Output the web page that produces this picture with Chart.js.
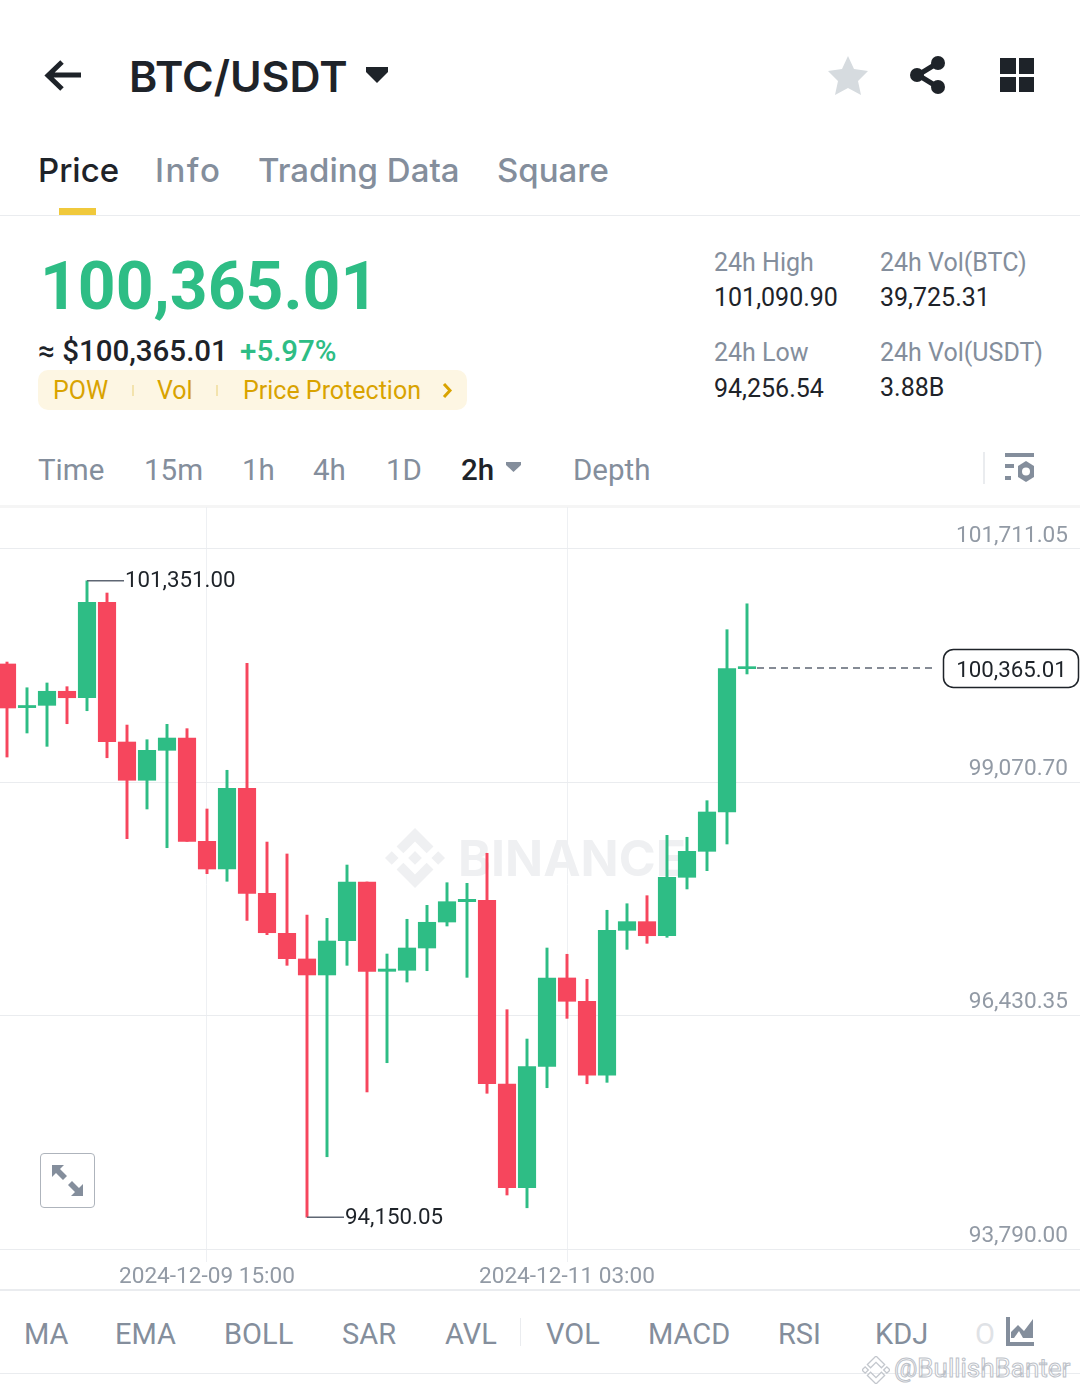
<!DOCTYPE html>
<html>
<head>
<meta charset="utf-8">
<script src="https://cdn.jsdelivr.net/npm/chart.js@4"></script>
<style>
  html, body { margin: 0; padding: 0; background: #fff; }
  #page { position: relative; width: 1080px; height: 1390px; overflow: hidden; background: #fff; font-family: Roboto, sans-serif; }
  .t { position: absolute; line-height: 0; white-space: nowrap; }
  .gray { color: #848e9c; }
  .dark { color: #1e2329; }
  .line { position: absolute; left: 0; width: 1080px; background: #eaecef; }
  svg { position: absolute; }
  #chartBox { position: absolute; left: 0; top: 507px; width: 1080px; height: 783px; }
  .tab { font-family: Inter; font-size: 33px; font-weight: 500; }
  .stat { font-size: 25px; }
  .ivl { font-size: 29.500px; }
  .ind { font-size: 29px; color: #848e9c; top: 1334px; }
  .pill { font-size: 25px; color: #d9a300; top: 391px; }
</style>
</head>
<body>
<div id="page">
  <!-- ヘッダー -->
  <svg style="left:44px;top:58px" width="38" height="36" viewBox="0 0 38 36"><path d="M37 17H7M18 4L4 17.500L18 31" fill="none" stroke="#1e2329" stroke-width="5"/></svg>
  <div class="t dark" style="left:129px;top:76px;font-family:Inter;font-size:43px;font-weight:600">BTC/USDT</div>
  <svg style="left:365px;top:66px" width="24" height="18"><path d="M1 1H23V6L12 17L1 6Z" fill="#1e2329"/></svg>
  <svg style="left:828px;top:56px" width="40" height="40" viewBox="0 0 40 40"><path d="M20 0L26 13L40 15L30 25L33 39L20 32L7 39L10 25L0 15L14 13Z" fill="#d6dbdf"/></svg>
  <svg style="left:908px;top:55px" width="40" height="40" viewBox="0 0 40 40"><path d="M28 9L10 20L28 31" fill="none" stroke="#1e2329" stroke-width="5"/><circle cx="30" cy="8" r="7" fill="#1e2329"/><circle cx="9" cy="20" r="7" fill="#1e2329"/><circle cx="30" cy="32" r="7" fill="#1e2329"/></svg>
  <svg style="left:1000px;top:58px" width="34" height="34"><rect width="16" height="16" fill="#1e2329"/><rect x="19" width="15" height="16" fill="#1e2329"/><rect y="19" width="16" height="15" fill="#1e2329"/><rect x="19" y="19" width="15" height="15" fill="#1e2329"/></svg>

  <!-- タブ -->
  <div class="t tab dark" style="left:38px;top:170px">Price</div>
  <div class="t tab gray" style="left:155px;top:170px;letter-spacing:1.500px">Info</div>
  <div class="t tab gray" style="left:258px;top:170px">Trading Data</div>
  <div class="t tab gray" style="left:497px;top:170px">Square</div>
  <div style="position:absolute;left:59px;top:208px;width:37px;height:7px;background:#f0c93c"></div>
  <div class="line" style="top:215px;height:1px"></div>

  <!-- 価格 -->
  <div class="t" style="left:40px;top:287px;font-size:66px;font-weight:700;color:#2ebd85">100,365.01</div>
  <div class="t dark" style="left:38px;top:351px;font-size:29.500px;font-weight:500">≈ $100,365.01</div>
  <div class="t" style="left:240px;top:351px;font-size:29.500px;font-weight:500;color:#2ebd85">+5.97%</div>
  <div style="position:absolute;left:38px;top:370px;width:429px;height:40px;border-radius:10px;background:#fdf6e3"></div>
  <div class="t pill" style="left:53px">POW</div>
  <div style="position:absolute;left:132px;top:385px;width:2px;height:11px;background:#f3e3ad"></div>
  <div class="t pill" style="left:157px">Vol</div>
  <div style="position:absolute;left:216px;top:385px;width:2px;height:11px;background:#f3e3ad"></div>
  <div class="t pill" style="left:243px">Price Protection</div>
  <svg style="left:441px;top:382px" width="12" height="17"><path d="M3 2L9 8.500L3 15" fill="none" stroke="#d9a300" stroke-width="3"/></svg>

  <div class="t stat gray" style="left:714px;top:263px">24h High</div>
  <div class="t stat dark" style="left:714px;top:298px">101,090.90</div>
  <div class="t stat gray" style="left:714px;top:353px">24h Low</div>
  <div class="t stat dark" style="left:714px;top:389px">94,256.54</div>
  <div class="t stat gray" style="left:880px;top:263px">24h Vol(BTC)</div>
  <div class="t stat dark" style="left:880px;top:298px">39,725.31</div>
  <div class="t stat gray" style="left:880px;top:353px">24h Vol(USDT)</div>
  <div class="t stat dark" style="left:880px;top:388px">3.88B</div>

  <!-- 時間足 -->
  <div class="t ivl gray" style="left:38px;top:470px">Time</div>
  <div class="t ivl gray" style="left:144px;top:470px">15m</div>
  <div class="t ivl gray" style="left:242px;top:470px">1h</div>
  <div class="t ivl gray" style="left:313px;top:470px">4h</div>
  <div class="t ivl gray" style="left:386px;top:470px">1D</div>
  <div class="t ivl dark" style="left:461px;top:470px;font-weight:500">2h</div>
  <svg style="left:505px;top:461px" width="17" height="12"><path d="M1 1H16V4L8.500 11L1 4Z" fill="#848e9c"/></svg>
  <div class="t ivl gray" style="left:573px;top:470px">Depth</div>
  <div style="position:absolute;left:983px;top:452px;width:2px;height:32px;background:#eaecef"></div>
  <svg style="left:1004px;top:452px" width="32" height="32" viewBox="0 0 32 32" fill="#848e9c"><rect x="1" y="1" width="29" height="4"/><rect x="1" y="12" width="9" height="4"/><rect x="1" y="24" width="6" height="4"/><path d="M22 9L30 14V25L22 30L14 25V14Z"/><circle cx="22" cy="19.500" r="4" fill="#fff"/></svg>
  <div class="line" style="top:505px;height:3px;background:#f5f5f5"></div>

  <!-- 透かし -->
  <svg style="left:385px;top:828px" width="60" height="60" viewBox="0 0 126.610 126.610" fill="#eff0f2"><path d="M38.730 53.200l24.590-24.580 24.600 24.600 14.300-14.310L63.320 0 24.430 38.900z"/><path d="M0 63.310l14.300-14.310 14.310 14.310-14.310 14.300z"/><path d="M38.730 73.410l24.590 24.590 24.600-24.600 14.310 14.290-38.900 38.910-38.910-38.880z"/><path d="M98 63.310l14.300-14.310 14.310 14.300-14.310 14.320z"/><path d="M77.830 63.300L63.320 48.780 52.590 59.510l-1.240 1.230-2.540 2.540 14.510 14.500 14.510-14.470z"/></svg>
  <div class="t" style="left:458px;top:858px;font-family:Inter;font-size:50px;font-weight:700;color:#eff0f2">BINANCE</div>

  <div id="chartBox"><canvas id="klineChart" width="1080" height="783"></canvas></div>

  <!-- 拡大ボタン -->
  <div style="position:absolute;left:40px;top:1153px;width:53px;height:53px;border:1px solid #aeb4bc;border-radius:4px;background:#fff"></div>
  <svg style="left:51px;top:1164px" width="33" height="33" viewBox="0 0 33 33" fill="#848e9c"><path d="M1 1H13L9 5L16 12L12 16L5 9L1 13Z"/><path d="M32 32H20L24 28L17 21L21 17L28 24L32 20Z"/></svg>

  <!-- インジケーター -->
  <div class="line" style="top:1289px;height:2px"></div>
  <div class="t ind" style="left:24px">MA</div>
  <div class="t ind" style="left:115px">EMA</div>
  <div class="t ind" style="left:224px">BOLL</div>
  <div class="t ind" style="left:342px">SAR</div>
  <div class="t ind" style="left:445px">AVL</div>
  <div style="position:absolute;left:520px;top:1318px;width:1px;height:28px;background:#eaecef"></div>
  <div class="t ind" style="left:546px">VOL</div>
  <div class="t ind" style="left:648px">MACD</div>
  <div class="t ind" style="left:778px">RSI</div>
  <div class="t ind" style="left:875px">KDJ</div>
  <div class="t ind" style="left:975px;color:#dfe2e6">O</div>
  <svg style="left:1006px;top:1317px" width="29" height="29" viewBox="0 0 29 29"><path d="M2 0V27H28" fill="none" stroke="#848e9c" stroke-width="4"/><path d="M5 21L5 15L12 8L18 14L27 2L27 21Z" fill="#848e9c"/><path d="M8 21L13 14L17 21Z" fill="#fff"/></svg>
  <div class="line" style="top:1373px;height:1px"></div>

  <svg style="left:862px;top:1356px" width="28" height="28" viewBox="0 0 126.610 126.610" fill="#fff" stroke="#c3c7cd" stroke-width="6"><path d="M38.730 53.200l24.590-24.580 24.600 24.600 14.300-14.310L63.320 0 24.430 38.900z"/><path d="M0 63.310l14.300-14.310 14.310 14.310-14.310 14.300z"/><path d="M38.730 73.410l24.590 24.590 24.600-24.600 14.310 14.290-38.900 38.910-38.910-38.880z"/><path d="M98 63.310l14.300-14.310 14.310 14.300-14.310 14.320z"/></svg>
  <div class="t" style="left:894px;top:1368px;font-size:26px;color:#fff;-webkit-text-stroke:1px #bcc1c8">@BullishBanter</div>
</div>

<script>
// ===== ローソク足データ (2時間足) =====
const categories = [
  "2024-12-08 19:00", "2024-12-08 21:00", "2024-12-08 23:00", "2024-12-09 01:00", "2024-12-09 03:00",
  "2024-12-09 05:00", "2024-12-09 07:00", "2024-12-09 09:00", "2024-12-09 11:00", "2024-12-09 13:00",
  "2024-12-09 15:00", "2024-12-09 17:00", "2024-12-09 19:00", "2024-12-09 21:00", "2024-12-09 23:00",
  "2024-12-10 01:00", "2024-12-10 03:00", "2024-12-10 05:00", "2024-12-10 07:00", "2024-12-10 09:00",
  "2024-12-10 11:00", "2024-12-10 13:00", "2024-12-10 15:00", "2024-12-10 17:00", "2024-12-10 19:00",
  "2024-12-10 21:00", "2024-12-10 23:00", "2024-12-11 01:00", "2024-12-11 03:00", "2024-12-11 05:00",
  "2024-12-11 07:00", "2024-12-11 09:00", "2024-12-11 11:00", "2024-12-11 13:00", "2024-12-11 15:00",
  "2024-12-11 17:00", "2024-12-11 19:00", "2024-12-11 21:00"
];
const opens = [
  100410, 99916, 99942, 100101, 100028, 101108, 99527, 99094, 99433, 99572,
  98403, 98090, 99003, 97815, 97362, 97072, 96891, 97279, 97943, 96932,
  96944, 97196, 97490, 97720, 97736, 95657, 94484, 95857, 96857, 96593,
  95756, 97396, 97494, 97335, 97996, 98290, 98735, 100357
];
const closes = [
  99912, 99940, 100101, 100028, 101108, 99530, 99094, 99433, 99572, 98403,
  98090, 99003, 97815, 97369, 97075, 96891, 97275, 97943, 96932, 96958,
  97196, 97487, 97720, 97747, 95660, 94484, 95853, 96857, 96593, 95756,
  97396, 97494, 97335, 97996, 98290, 98735, 100357, 100365.01
];
const highs = [
  100432, 100141, 100195, 100153, 101351, 101213, 99719, 99553, 99727, 99678,
  98769, 99207, 100418, 98395, 98260, 97569, 97532, 98135, 97943, 97128,
  97521, 97679, 97935, 97928, 98268, 96498, 96166, 97196, 97125, 96842,
  97623, 97697, 97788, 98471, 98449, 98863, 100798, 101090.9
];
const lows = [
  99357, 99629, 99478, 99734, 99881, 99349, 98433, 98769, 98331, 98403,
  98037, 97951, 97509, 97347, 97000, 94150.05, 94834, 97000, 95567, 95898,
  96811, 96939, 97445, 96864, 95552, 94401, 94256.54, 95615, 96400, 95660,
  95676, 97181, 97249, 97317, 97864, 98071, 98373, 100297
];
const yTicks = [101711.05, 99070.70, 96430.35, 93790.00];
const xTickIndexes = [10, 28];

const GREEN = "#2ebd85";
const RED = "#f6465d";
const TEXT = "#1e2329";
const money = v => v.toLocaleString("en-US", { minimumFractionDigits: 2, maximumFractionDigits: 2 });
const candleColor = ctx => closes[ctx.dataIndex] >= opens[ctx.dataIndex] ? GREEN : RED;

// ラベルのはみ出し分の余白を消す
function clearPadding(scale) {
  scale.paddingLeft = 0;
  scale.paddingRight = 0;
  scale.paddingTop = 0;
  scale.paddingBottom = 0;
}

// 最高値・最安値・現在値のラベル
const markerPlugin = {
  id: "markers",
  afterDatasetsDraw(chart) {
    const ctx = chart.ctx;
    const x = chart.scales.x;
    const y = chart.scales.y;

    function extreme(values, pick) {
      const value = pick(...values);
      const px = x.getPixelForValue(values.indexOf(value));
      const py = y.getPixelForValue(value);
      ctx.strokeStyle = "#5e6673";
      ctx.lineWidth = 1.5;
      ctx.setLineDash([]);
      ctx.beginPath();
      ctx.moveTo(px, py);
      ctx.lineTo(px + 37, py);
      ctx.stroke();
      ctx.fillStyle = TEXT;
      ctx.font = "22.3px Roboto";
      ctx.textAlign = "left";
      ctx.textBaseline = "middle";
      ctx.fillText(money(value), px + 38, py + 1);
    }
    extreme(highs, Math.max);
    extreme(lows, Math.min);

    // 現在値
    const last = closes[closes.length - 1];
    const lastY = y.getPixelForValue(last);
    ctx.strokeStyle = "#5e6673";
    ctx.lineWidth = 1.5;
    ctx.setLineDash([7, 5]);
    ctx.beginPath();
    ctx.moveTo(x.getPixelForValue(closes.length - 1) + 10, lastY);
    ctx.lineTo(932, lastY);
    ctx.stroke();
    ctx.setLineDash([]);
    ctx.fillStyle = "#fff";
    ctx.strokeStyle = TEXT;
    ctx.beginPath();
    ctx.roundRect(943.5, lastY - 18.5, 135, 38, 10);
    ctx.fill();
    ctx.stroke();
    ctx.fillStyle = TEXT;
    ctx.font = "22.3px Roboto";
    ctx.textAlign = "center";
    ctx.textBaseline = "middle";
    ctx.fillText(money(last), 1011.5, lastY + 3);
  }
};

new Chart(document.getElementById("klineChart"), {
  type: "bar",
  data: {
    datasets: [
      {
        label: "body",
        data: opens.map((o, i) => ({ x: i, y: [o, closes[i]] })),
        backgroundColor: candleColor,
        barThickness: 17.5,
        minBarLength: 2
      },
      {
        label: "wick",
        data: lows.map((l, i) => ({ x: i, y: [l, highs[i]] })),
        backgroundColor: candleColor,
        barThickness: 2.3
      }
    ]
  },
  options: {
    responsive: false,
    animation: false,
    events: [],
    layout: { padding: 0 },
    datasets: { bar: { grouped: false } },
    plugins: {
      legend: { display: false },
      title: { display: false },
      tooltip: { enabled: false }
    },
    scales: {
      x: {
        type: "linear",
        offset: false,
        min: -0.35,
        max: 53.65,
        afterFit: scale => { scale.height = 28; clearPadding(scale); },
        afterBuildTicks: scale => { scale.ticks = xTickIndexes.map(v => ({ value: v })); },
        grid: { color: "#eef0f3", lineWidth: 1, drawTicks: false, offset: false },
        border: { display: false },
        ticks: {
          autoSkip: false,
          maxRotation: 0,
          padding: 2,
          color: "#929aa5",
          font: { family: "Roboto", size: 22.6 },
          callback: v => categories[v]
        }
      },
      y: {
        position: "right",
        min: 93642.9,
        max: 102186.3,
        afterFit: scale => { scale.width = 0; clearPadding(scale); },
        afterBuildTicks: scale => { scale.ticks = yTicks.map(v => ({ value: v })); },
        grid: { color: "#eaecef", lineWidth: 1, drawTicks: false },
        border: { display: false },
        ticks: {
          mirror: true,
          autoSkip: false,
          padding: -12,
          labelOffset: -13,
          color: "#929aa5",
          font: { family: "Roboto", size: 22.6 },
          callback: v => money(v)
        }
      }
    }
  },
  plugins: [markerPlugin]
});
</script>
</body>
</html>
